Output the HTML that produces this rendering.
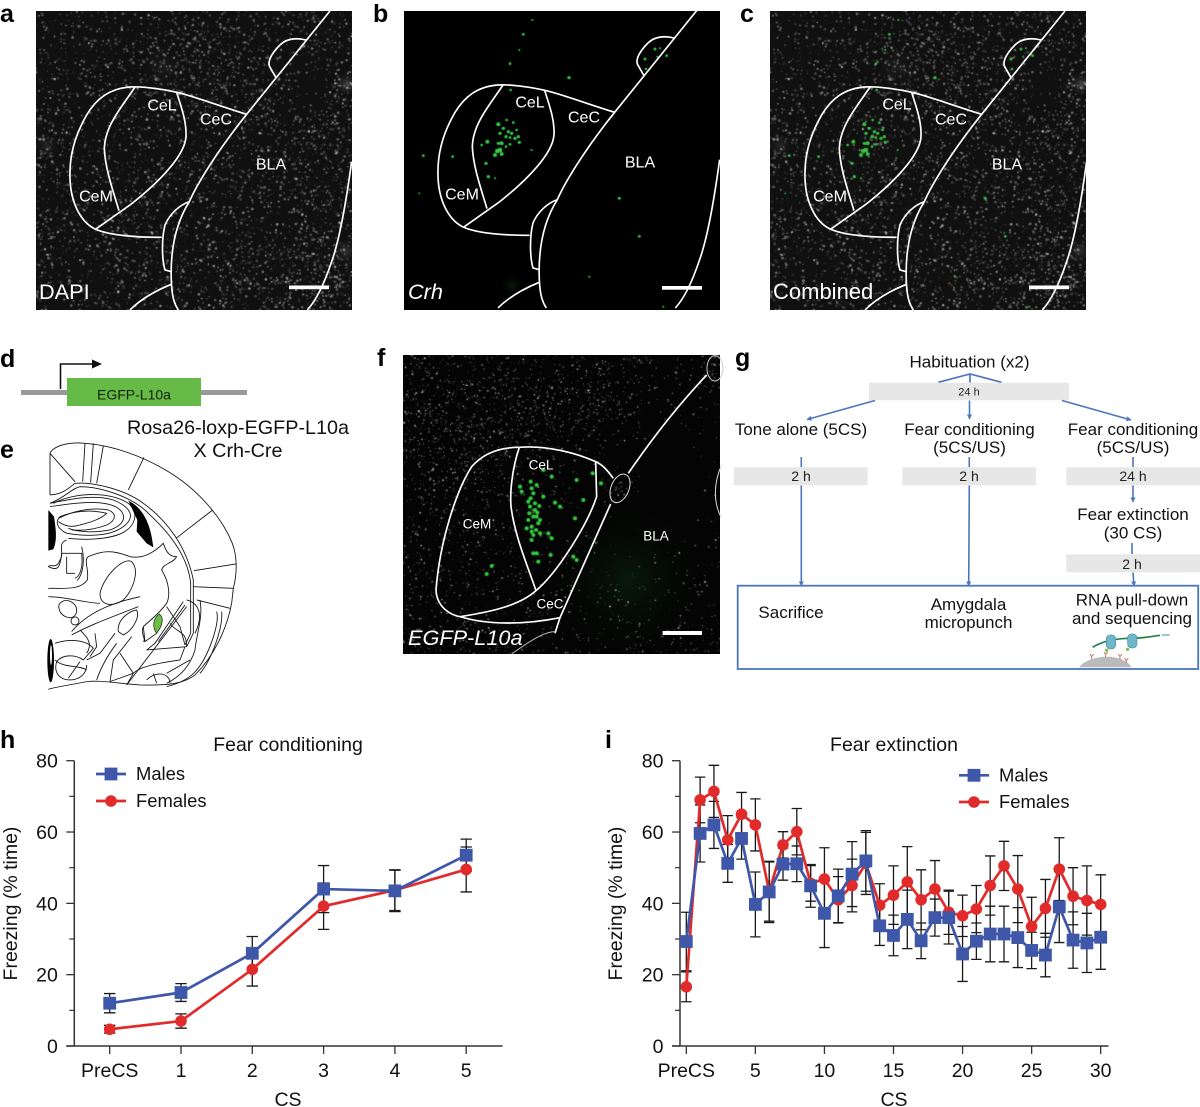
<!DOCTYPE html>
<html lang="en">
<head>
<meta charset="utf-8">
<title>Crh neuron figure</title>
<style>
html,body{margin:0;padding:0;background:#fff;}
#page{position:relative;width:1200px;height:1107px;overflow:hidden;background:#fff;font-family:"Liberation Sans",sans-serif;}
canvas{position:absolute;display:block;}
#fig{position:absolute;left:0;top:0;}
text{font-family:"Liberation Sans",sans-serif;}
.pl{font-size:25px;font-weight:bold;fill:#000;}
.wl{fill:#fff;font-size:16px;text-anchor:middle;dominant-baseline:central;}
.out{fill:none;stroke:#fff;stroke-width:5;}
.br{fill:none;stroke:#111;stroke-width:2.6;}
.gt{font-size:17px;fill:#111;text-anchor:middle;}
.flow{fill:none;stroke:#4a76c0;stroke-width:1.6;}
.gb{fill:#e8e7e7;}
.tk{font-size:19.5px;fill:#111;}
</style>
</head>
<body>
<div id="page">
<canvas id="cvA" width="316" height="299" style="left:36px;top:11px"></canvas>
<canvas id="cvB" width="316" height="299" style="left:404px;top:11px"></canvas>
<canvas id="cvC" width="316" height="299" style="left:770px;top:11px"></canvas>
<canvas id="cvF" width="317" height="299" style="left:403px;top:355px"></canvas>
<svg id="fig" width="1200" height="1107" viewBox="0 0 1200 1107" xmlns="http://www.w3.org/2000/svg">
<defs>
<marker id="ah" markerWidth="6" markerHeight="6" refX="4.5" refY="2.5" orient="auto" markerUnits="userSpaceOnUse"><path d="M0 0L5 2.5L0 5Z" fill="#4a76c0"/></marker>
<g id="amy">
<path class="out" d="M650 328C560 300 480 270 440 262C390 250 330 244 300 246C240 250 200 280 170 330C130 400 118 460 120 520C122 590 150 650 195 672C240 692 320 697 395 697"/>
<path class="out" d="M315 246C280 300 225 360 223 430C225 490 250 560 267 617"/>
<path class="out" d="M440 262C455 310 470 350 468 395C465 450 390 530 300 600L198 672"/>
<path class="out" d="M900 18L650 328C560 440 500 540 478 590C440 650 420 730 424 830C426 880 435 900 445 915"/>
<path class="out" d="M828 105C800 98 770 100 750 120C720 150 710 175 722 190L738 218"/>
<path class="out" d="M478 590C450 600 420 625 405 660C395 700 395 760 405 795L424 800"/>
<path class="out" d="M424 838C370 860 330 885 300 915"/>
<path class="out" d="M965 470C950 580 930 700 905 770C885 830 860 885 832 915"/>
</g>
</defs>

<text class="pl" x="0" y="22">a</text>
<text class="pl" x="373" y="22">b</text>
<text class="pl" x="740" y="22">c</text>
<text class="pl" x="0" y="367">d</text>
<text class="pl" x="0" y="458">e</text>
<text class="pl" x="377" y="366">f</text>
<text class="pl" x="735" y="366">g</text>
<text class="pl" x="0" y="748">h</text>
<text class="pl" x="605" y="748">i</text>

<!-- panel a -->
<g transform="translate(30,5) scale(.3333)"><use href="#amy"/></g>
<rect x="289" y="285.500" width="40" height="3.700" fill="#fff"/>
<g>
<text class="wl" x="162" y="106">CeL</text><text class="wl" x="216" y="120">CeC</text><text class="wl" x="271" y="165">BLA</text><text class="wl" x="96" y="197">CeM</text>
<text x="39" y="299" fill="#fff" font-size="21.7">DAPI</text>
</g>
<!-- panel b -->
<g transform="translate(398,3) scale(.3333)"><use href="#amy"/></g>
<rect x="662" y="286" width="40" height="3.700" fill="#fff"/>
<g>
<text class="wl" x="530" y="103">CeL</text><text class="wl" x="584" y="118">CeC</text><text class="wl" x="640" y="163">BLA</text><text class="wl" x="462" y="195">CeM</text>
<text x="408" y="299" fill="#fff" font-size="21.7" font-style="italic">Crh</text>
</g>
<!-- panel c -->
<g transform="translate(765,5) scale(.3333)"><use href="#amy"/></g>
<rect x="1029" y="285.500" width="40" height="3.700" fill="#fff"/>
<g>
<text class="wl" x="897" y="105">CeL</text><text class="wl" x="951" y="120">CeC</text><text class="wl" x="1007" y="165">BLA</text><text class="wl" x="830" y="197">CeM</text>
<text x="773" y="299" fill="#fff" font-size="22">Combined</text>
</g>

<!-- panel d -->
<g>
<rect x="21" y="390" width="226" height="5" fill="#999"/>
<path d="M60.5 389V364H93" fill="none" stroke="#111" stroke-width="1.6"/>
<path d="M92 359.500L102 364L92 368.500Z" fill="#111"/>
<rect x="67" y="378" width="134" height="28" fill="#66bb46"/>
<text x="134" y="399.500" text-anchor="middle" font-size="14" fill="#14200e">EGFP-L10a</text>
</g>
<text x="238" y="434" text-anchor="middle" font-size="19.8" fill="#111">Rosa26-loxp-EGFP-L10a</text>
<text x="238" y="457" text-anchor="middle" font-size="19.8" fill="#111">X Crh-Cre</text>

<!-- panel e -->
<g transform="translate(0,340) scale(.3333)">
<path class="br" d="M150 340C160 318 205 305 255 310C340 316 430 350 500 392C590 445 665 530 697 610C712 650 712 700 700 745L695 790C680 870 640 950 585 1005C540 1040 470 1035 420 1035C350 1030 300 1020 260 1025C210 1035 170 1040 145 1048"/>
<path class="br" d="M150 340V465M150 340L225 425M255 310L248 425M280 310L272 428M310 318L290 430M432 352L385 450M638 510L528 595M708 672L582 692M700 745L580 740M690 805L590 780"/>
<path class="br" d="M150 465C190 462 205 445 225 430C270 425 370 445 430 490C500 540 560 620 580 720V880L560 920"/>
<path class="br" d="M150 490C200 470 215 445 240 440C300 440 400 470 450 525C520 590 565 660 572 730V880L555 915"/>
<path class="br" d="M150 490C210 478 280 462 340 480C390 500 410 530 370 560C330 590 260 590 200 580C170 565 165 545 180 530C230 510 280 510 320 520C300 540 260 550 240 555C210 565 190 555 175 545"/>
<path class="br" d="M150 500C220 490 310 475 355 505C385 530 370 555 330 570C280 580 230 575 205 565"/>
<path class="br" d="M175 535C215 515 270 500 325 510C350 520 350 540 320 555C280 570 240 572 215 570M160 490C230 455 330 455 385 490C420 520 405 560 365 580C320 600 250 600 205 595"/>
<path class="br" d="M200 600C170 610 195 640 180 660C170 690 150 670 145 680"/>
<path class="br" d="M185 640H245C250 680 240 710 225 715M200 650V700H225M145 680C170 692 180 690 185 640M245 620C255 660 250 700 232 722"/>
<path class="br" d="M390 650C440 660 480 620 490 610C500 640 510 650 530 650C520 670 490 670 485 690C510 730 510 770 500 790C470 830 450 840 430 860C420 880 440 900 430 905"/>
<path class="br" d="M300 760C310 710 370 650 395 665C420 690 400 750 370 780C340 800 300 800 300 760Z"/>
<path class="br" d="M145 745C200 745 240 750 262 720C268 690 250 660 265 650C310 630 340 630 390 650"/>
<path class="br" d="M145 770C200 770 260 790 300 790M180 790C200 770 230 790 230 810C230 840 195 840 180 815C175 800 175 795 180 790"/>
<circle class="br" cx="225" cy="843" r="12"/>
<path class="br" d="M215 875C260 820 330 790 420 770M215 885C280 850 340 830 415 800M355 875C350 840 385 815 410 810C420 830 400 870 370 885Z"/>
<path class="br" d="M550 785L465 910L440 930M555 795L475 905M560 800L380 1035M350 910C320 950 300 990 290 1020M395 890L340 960L330 1025"/>
<path class="br" d="M240 870C260 890 280 910 260 940M285 880L290 920L270 950M345 880L300 940L260 960M430 860L435 905L470 880M560 780C600 790 610 830 585 880M510 850C530 880 560 870 560 920M440 930L560 920M360 940L400 1000M330 1025L400 1000M460 1000L470 1030M500 1000L570 960"/>
<path class="br" d="M165 910C210 895 260 900 280 925L250 960C230 945 190 940 170 965C160 1000 180 1020 210 1020C240 1020 260 1000 260 975M205 1015L240 965M165 960C190 985 240 975 260 990"/>
<path class="br" d="M400 1000L380 1035M440 1020C470 990 510 1000 510 1030M400 1000C420 980 470 970 540 960L555 920M500 800L540 860L555 915"/>
<path class="br" d="M600 780C610 830 590 880 585 930C570 980 540 1010 500 1030M650 815C660 850 625 950 590 990C570 1015 540 1030 500 1040M665 815C670 860 635 960 600 1000"/>
<path d="M145 510L162 530C168 570 172 600 160 628L145 632Z" fill="#000"/>
<path d="M385 482C420 500 450 535 460 622L440 610L410 575L412 540Z" fill="#000"/>
<ellipse cx="152" cy="962" rx="10" ry="65" fill="#000"/>
<ellipse cx="153" cy="945" rx="3" ry="30" fill="#fff"/>
<path d="M478 822C495 835 485 860 470 880C455 860 460 835 478 822Z" fill="#6cbf45" stroke="#111" stroke-width="2"/>
</g>

<!-- panel f -->
<g transform="translate(400,350) scale(.3333)">
<path class="out" d="M358 292C300 292 250 310 215 350C170 420 120 570 108 720C110 770 150 795 180 800C260 825 370 825 480 803"/>
<path class="out" d="M180 800C280 785 360 765 408 722C470 670 560 530 590 440L587 335"/>
<path class="out" d="M358 292C440 285 530 310 587 335C610 345 625 365 640 385"/>
<path class="out" d="M358 292C335 360 330 430 333 470C345 560 380 640 408 722"/>
<path class="out" d="M632 462L480 803L465 850"/>
<path class="out" d="M465 845C430 845 380 880 335 912" style="stroke:#bbb;stroke-width:3"/>
<ellipse cx="660" cy="415" rx="27" ry="45" transform="rotate(22 660 415)" fill="none" stroke="#ddd" stroke-width="3"/>
<path class="out" d="M685 370C760 260 840 160 920 75"/>
<ellipse cx="945" cy="55" rx="24" ry="38" fill="none" stroke="#ccc" stroke-width="3"/>
<path d="M965 345C940 400 940 460 965 505" fill="none" stroke="#ddd" stroke-width="3"/>
<rect x="788" y="843" width="118" height="12" fill="#fff"/>
</g>
<g>
<text class="wl" x="541" y="465" style="font-size:13.5px">CeL</text><text class="wl" x="477" y="524" style="font-size:13.5px">CeM</text><text class="wl" x="550" y="604" style="font-size:13.5px">CeC</text><text class="wl" x="656" y="536" style="font-size:13.5px">BLA</text>
<text x="408" y="645" fill="#fff" font-size="21.7" font-style="italic">EGFP-L10a</text>
</g>

<!-- panel g -->
<g>
<g transform="translate(725,340) scale(.3333)">
<path class="flow" style="stroke-width:5" d="M640 127L735 102L830 127M735 102V128"/>
</g>
<rect class="gb" x="869" y="382.700" width="200" height="17.500"/>
<text x="969" y="395.500" text-anchor="middle" font-size="11" fill="#222">24 h</text>
<rect class="gb" x="733.700" y="467.300" width="134" height="18"/>
<rect class="gb" x="902.300" y="467.300" width="133.700" height="18"/>
<rect class="gb" x="1066.300" y="467.300" width="133.700" height="18"/>
<rect class="gb" x="1066.300" y="554.300" width="133.700" height="18"/>
<text x="801" y="481" text-anchor="middle" font-size="14" fill="#222">2 h</text>
<text x="969" y="481" text-anchor="middle" font-size="14" fill="#222">2 h</text>
<text x="1133" y="481" text-anchor="middle" font-size="14" fill="#222">24 h</text>
<text x="1132" y="569" text-anchor="middle" font-size="14" fill="#222">2 h</text>
<path class="flow" marker-end="url(#ah)" d="M875 400.500L807 419.500"/>
<path class="flow" marker-end="url(#ah)" d="M969.500 400.500V419"/>
<path class="flow" marker-end="url(#ah)" d="M1062 400.500L1131 420"/>
<path class="flow" d="M801.300 457V467M969.300 457V467M1133 457V467M1132 543V554"/>
<path class="flow" marker-end="url(#ah)" d="M801.300 485.500V586"/>
<path class="flow" marker-end="url(#ah)" d="M969.300 485.500L968.700 586"/>
<path class="flow" marker-end="url(#ah)" d="M1133 485.500V502"/>
<path class="flow" marker-end="url(#ah)" d="M1133 572.500L1134 586"/>
<rect x="737.700" y="585.700" width="460.500" height="83.300" fill="none" stroke="#4a76c0" stroke-width="1.8"/>
<text class="gt" x="969.500" y="367.500">Habituation (x2)</text>
<text class="gt" x="801" y="435">Tone alone (5CS)</text>
<text class="gt" x="969.500" y="435">Fear conditioning</text>
<text class="gt" x="969.500" y="453">(5CS/US)</text>
<text class="gt" x="1133" y="435">Fear conditioning</text>
<text class="gt" x="1133" y="453">(5CS/US)</text>
<text class="gt" x="1133" y="520">Fear extinction</text>
<text class="gt" x="1133" y="538.500">(30 CS)</text>
<text class="gt" x="791" y="618">Sacrifice</text>
<text class="gt" x="968.500" y="610">Amygdala</text>
<text class="gt" x="968.500" y="628">micropunch</text>
<text class="gt" x="1132" y="605.500">RNA pull-down</text>
<text class="gt" x="1132" y="624">and sequencing</text>
<g transform="translate(725,340) scale(.3333)">
<path d="M1062 982C1090 945 1190 935 1220 982Z" fill="#bbb"/>
<path d="M1100 950l-5-8m5 8l6-8M1100 950v8M1142 944l-5-8m5 8l6-8M1142 944v8M1185 950l-5-8m5 8l6-8M1185 950v8M1204 962l-5-8m5 8l6-8M1204 962v8" stroke="#b06a5a" stroke-width="2.500" fill="none"/>
<path d="M1103 922C1130 905 1170 895 1220 895C1250 895 1280 890 1305 886" stroke="#1f7f4a" stroke-width="5" fill="none"/>
<path d="M1310 885h24" stroke="#7aa" stroke-width="4" fill="none"/>
<rect x="1144" y="885" width="28" height="42" rx="12" fill="#6fb6c9" stroke="#4b8fa5" stroke-width="2"/>
<rect x="1208" y="882" width="28" height="42" rx="12" fill="#6fb6c9" stroke="#4b8fa5" stroke-width="2"/>
<circle cx="1145" cy="931" r="5" fill="#7cc242"/><circle cx="1208" cy="928" r="5" fill="#7cc242"/>
</g>
</g>

<g id="chartH"></g>
<g id="chartI"></g>
</svg>
</div>

<script>
// ---- Panel h data ----
const hCategories = ['PreCS', '1', '2', '3', '4', '5'];
const hMales = [12, 15, 26, 44, 43.5, 53.5];
const hMalesErr = [2.7, 2.5, 4.7, 6.6, 5.8, 4.5];
const hFemales = [4.7, 7, 21.5, 39.2, 43.7, 49.5];
const hFemalesErr = [1.1, 2, 4.7, 6.5, 5.7, 6.3];
// ---- Panel i data (index 0 is PreCS, then CS 1..30) ----
const iTickValues = [0, 5, 10, 15, 20, 25, 30];
const iTickLabels = ['PreCS', '5', '10', '15', '20', '25', '30'];
const iMales = [29.3, 59.6, 62, 51.2, 58.2, 39.7, 43.2, 51, 51.1, 44.9, 37.2, 42.1, 48.2, 51.9, 33.7, 31, 35.5, 29.5, 36, 36, 25.8, 29.4, 31.4, 31.4, 30.4, 26.8, 25.5, 39, 29.7, 28.9, 30.5];
const iMalesErr = [8.2, 8, 6.6, 5.3, 5.8, 9.1, 8.6, 4.5, 5, 6, 9.6, 7.5, 9.1, 8.5, 5.5, 5.7, 8.2, 5, 5.2, 7.4, 7.7, 5.1, 7.8, 7.8, 8.4, 5.1, 6.1, 10, 7.9, 8.3, 9];
const iFemales = [16.6, 69, 71.4, 57.8, 65, 62, 43.3, 56.4, 60.1, 45.6, 46.8, 41, 45, 51.2, 39.5, 42.3, 46, 41, 44, 37.5, 36.5, 38.4, 45, 50.5, 44, 33.5, 38.6, 49.6, 42, 40.8, 39.7];
const iFemalesErr = [4.2, 6.4, 7.3, 6.8, 6.1, 7.3, 8.3, 3.7, 6.5, 5, 8.8, 6.5, 7.4, 8.7, 6, 8.2, 9.9, 8.4, 8, 6.2, 5.8, 6.6, 8.3, 6.9, 9.4, 8.2, 8.1, 8.8, 8, 9.7, 8.3];
// ---- Shared axis data ----
const yTicks = [0, 20, 40, 60, 80];
const yMinorTicks = [10, 30, 50, 70];
const yMax = 80;
const seriesNames = ['Males', 'Females'];

const NS = 'http://www.w3.org/2000/svg';
const BLUE = '#3f57a8', RED = '#e12b2b', AXIS = '#333';
function mk(parent, tag, attrs, txt) {
  const el = document.createElementNS(NS, tag);
  for (const k in attrs) el.setAttribute(k, attrs[k]);
  if (txt !== undefined) el.textContent = txt;
  parent.appendChild(el);
  return el;
}
function drawChart(cfg) {
  const root = cfg.root;
  const yScale = v => 1046 - (v / yMax) * 285.3;
  const xScale = cfg.xScale;
  // error bars
  const errG = mk(root, 'g', {});
  
  
  [[cfg.females, cfg.femalesErr], [cfg.males, cfg.malesErr]].forEach(pair => {
    pair[0].forEach((v, i) => {
      const x = xScale(i), hi = yScale(v + pair[1][i]), lo = yScale(v - pair[1][i]), c = cfg.cap;
      const eb = mk(errG, 'path', {d: `M${x} ${hi}V${lo}M${x - c} ${hi}H${x + c}M${x - c} ${lo}H${x + c}`, fill: 'none', stroke: '#1a1a1a', 'stroke-width': 1.3});
      
      
    });
  });
  // axes
  const ax = mk(root, 'g', {});
  
  
  mk(ax, 'path', {d: `M${cfg.axisX} ${yScale(yMax)}V1046M${cfg.axisX - 8} 1046H${cfg.axisEnd}`, fill: 'none', stroke: AXIS, 'stroke-width': 1.5});
  yTicks.forEach(t => {
    mk(ax, 'line', {x1: cfg.axisX - 8, x2: cfg.axisX, y1: yScale(t), y2: yScale(t), stroke: AXIS, 'stroke-width': 1.3});
    const lab = mk(ax, 'text', {class: 'tk', x: cfg.axisX - 16.5, y: yScale(t) + 7, 'text-anchor': 'end'}, String(t));
    
    
  });
  yMinorTicks.forEach(t => mk(ax, 'line', {x1: cfg.axisX - 5, x2: cfg.axisX, y1: yScale(t), y2: yScale(t), stroke: AXIS, 'stroke-width': 1.2}));
  cfg.tickPos.forEach((p, i) => {
    mk(ax, 'line', {x1: xScale(p), x2: xScale(p), y1: 1046, y2: 1054, stroke: AXIS, 'stroke-width': 1.3});
    const lab = mk(ax, 'text', {class: 'tk', x: xScale(p), y: 1077, 'text-anchor': 'middle'}, cfg.tickLabels[i]);
    
    
  });
  // series
  function series(vals, color, square, name) {
    const g = mk(root, 'g', {});
    
    
    mk(g, 'polyline', {points: vals.map((v, i) => xScale(i) + ',' + yScale(v)).join(' '), fill: 'none', stroke: color, 'stroke-width': 2.7, 'stroke-linejoin': 'round'});
    vals.forEach((v, i) => {
      const x = xScale(i), y = yScale(v);
      const m = square
        ? mk(g, 'rect', {x: x - 6.4, y: y - 6.4, width: 12.8, height: 12.8, fill: color})
        : mk(g, 'circle', {cx: x, cy: y, r: 5.8, fill: color});
      
      
    });
  }
  series(cfg.females, RED, false, 'females-series');
  series(cfg.males, BLUE, true, 'males-series');
  // titles
  const t1 = mk(root, 'text', {class: 'tk', x: cfg.titleX, y: 751, 'text-anchor': 'middle'}, cfg.title);
  
  
  const t2 = mk(root, 'text', {class: 'tk', x: cfg.titleX, y: 1106, 'text-anchor': 'middle'}, 'CS');
  
  
  const t3 = mk(root, 'text', {class: 'tk', x: 0, y: 0, 'text-anchor': 'middle', transform: `translate(${cfg.yTitleX},903.500) rotate(-90)`}, 'Freezing (% time)');
  
  
  // legend
  [0, 1].forEach(i => {
    const y = cfg.legY[i], c = i === 0 ? BLUE : RED;
    const lg = mk(root, 'g', {});
    
    
    mk(lg, 'line', {x1: cfg.legX, x2: cfg.legX + 30, y1: y, y2: y, stroke: c, 'stroke-width': 2.7});
    if (i === 0) mk(lg, 'rect', {x: cfg.legX + 8.6, y: y - 6.4, width: 12.8, height: 12.8, fill: c});
    else mk(lg, 'circle', {cx: cfg.legX + 15, cy: y, r: 5.8, fill: c});
    mk(lg, 'text', {class: 'tk', x: cfg.legX + 40, y: y + 6, style: 'font-size:18.4px'}, seriesNames[i]);
  });
}
drawChart({
  root: document.getElementById('chartH'),
  xScale: i => 109.7 + i * 71.3,
  tickPos: hCategories.map((c, i) => i), tickLabels: hCategories,
  males: hMales, malesErr: hMalesErr, females: hFemales, femalesErr: hFemalesErr,
  axisX: 74.3, axisEnd: 502.5, cap: 5.7, title: 'Fear conditioning', titleX: 288, yTitleX: 17,
  legX: 96, legY: [774, 801]
});
drawChart({
  root: document.getElementById('chartI'),
  xScale: i => 686.3 + i * 13.813,
  tickPos: iTickValues, tickLabels: iTickLabels,
  males: iMales, malesErr: iMalesErr, females: iFemales, femalesErr: iFemalesErr,
  axisX: 680, axisEnd: 1108.5, cap: 5.2, title: 'Fear extinction', titleX: 894, yTitleX: 622,
  legX: 959, legY: [775.3, 802]
});

// ---- Micrograph textures (decorative image grain, not chart data) ----
function lcg(seed) { let s = seed >>> 0; return () => (s = (s * 1664525 + 1013904223) >>> 0) / 4294967296; }
function patch(ctx, x, y, r, col) {
  const g = ctx.createRadialGradient(x, y, 0, x, y, r);
  g.addColorStop(0, col); g.addColorStop(1, 'rgba(0,0,0,0)');
  ctx.fillStyle = g; ctx.fillRect(0, 0, ctx.canvas.width, ctx.canvas.height);
}
// texture density map for the DAPI field: x, y, radius, weight (panel pixels)
const dapiField = [[127,57,30,.5],[10,134,22,.4],[309,73,18,.9],[289,117,22,.4],[294,241,22,.7],[304,201,20,.5],[194,57,30,.3],[4,221,18,.4],[250,260,60,.25],[180,220,50,.2],[277,72,16,-.7],[227,201,30,-.3],[104,11,35,-.3],[151,211,26,-.3],[27,168,22,-.25],[100,120,40,-.1],[60,60,50,-.05]];
function density(x, y) {
  let d = .55;
  dapiField.forEach(f => {
    const dx = x - f[0], dy = y - f[1];
    d += f[3] * Math.exp(-(dx * dx + dy * dy) / (2 * f[2] * f[2]));
  });
  return d;
}
function dapi(ctx, seed) {
  ctx.fillStyle = '#101010'; ctx.fillRect(0, 0, 316, 299);
  patch(ctx, 311, 73, 14, 'rgba(255,255,255,.22)');
  patch(ctx, 310, 240, 16, 'rgba(255,255,255,.14)');
  patch(ctx, 127, 57, 26, 'rgba(255,255,255,.05)');
  patch(ctx, 10, 134, 14, 'rgba(255,255,255,.1)');
  const r = lcg(seed);
  ctx.filter = 'blur(0.65px)';
  for (let i = 0; i < 6500; i++) {
    const x = r() * 316, y = r() * 299;
    if (r() > density(x, y)) continue;
    const b = 70 + r() * 150, a = .2 + r() * .55, s = .6 + r() * .75;
    ctx.fillStyle = `rgba(${b | 0},${b | 0},${b | 0},${a})`;
    ctx.beginPath(); ctx.arc(x, y, s, 0, 7); ctx.fill();
  }
  ctx.filter = 'none';
}
// green spots listed in zoomed-crop units relative to panel b
const greenSpots = [[295,358,5],[300,385,4],[310,370,4],[320,345,3],[340,353,3],[325,380,4],[335,385,4],[350,375,3],[355,395,4],[358,412,4],[345,400,4],[330,398,3],[318,395,4],[305,415,5],[295,415,4],[300,435,6],[292,438,6],[285,450,5],[305,447,5],[318,425,3],[330,418,3],[262,410,5],[245,420,3],[258,475,4],[265,515,4],[285,520,2],[395,435,2],[370,88,3],[358,135,2],[330,176,3],[507,218,4],[332,255,3],[397,45,2],[70,452,3],[158,455,3],[58,565,1.5],[658,580,3.5],[718,694,3],[568,815,2],[790,905,2],[765,132,3.500],[780,130,2],[735,162,3.5],[800,152,3],[738,192,3],[772,155,2]];
function spots(ctx, alpha) {
  ctx.filter = 'blur(0.4px)';
  greenSpots.forEach(p => {
    ctx.fillStyle = `rgba(55,205,70,${alpha})`;
    ctx.beginPath(); ctx.arc(p[0] / 3 - 4, p[1] / 3 - 6, p[2] / 3 + .35, 0, 7); ctx.fill();
  });
  ctx.filter = 'none';
}
const ca = document.getElementById('cvA').getContext('2d');
dapi(ca, 12345);
const cb = document.getElementById('cvB').getContext('2d');
cb.fillStyle = '#000'; cb.fillRect(0, 0, 316, 299);
patch(cb, 108, 275, 14, 'rgba(30,90,35,.28)');
spots(cb, 1);
const cc = document.getElementById('cvC').getContext('2d');
dapi(cc, 12345);
spots(cc, .95);

// EGFP-L10a field: brighter grain upper-left, dim green haze in the BLA
const egfpField = [[190,45,26,.9],[35,80,30,.7],[20,110,20,.6],[110,72,24,.5],[60,30,50,.35],[216,133,10,1.2],[312,15,10,.8],[230,190,70,-.3],[270,100,50,-.35],[160,150,50,-.1]];
function egfpDensity(x, y) {
  let d = .42;
  egfpField.forEach(f => {
    const dx = x - f[0], dy = y - f[1];
    d += f[3] * Math.exp(-(dx * dx + dy * dy) / (2 * f[2] * f[2]));
  });
  return d;
}
const cf = document.getElementById('cvF').getContext('2d');
cf.fillStyle = '#040404'; cf.fillRect(0, 0, 317, 299);
patch(cf, 225, 225, 90, 'rgba(15,60,20,.38)');
(function () {
  const r = lcg(777);
  cf.filter = 'blur(0.35px)';
  for (let i = 0; i < 6000; i++) {
    const x = r() * 317, y = r() * 299;
    if (r() > egfpDensity(x, y)) continue;
    const b = 80 + r() * 170, a = .25 + r() * .6, s = .4 + r() * .55;
    cf.fillStyle = `rgba(${b | 0},${b | 0},${b | 0},${a})`;
    cf.beginPath(); cf.arc(x, y, s, 0, 7); cf.fill();
  }
  [[360,410],[365,425],[392,395],[410,405],[395,415],[385,455],[390,470],[405,460],[385,510],[410,500],[415,520],[395,530],[400,555],[395,570],[420,550],[445,550],[455,565],[405,480],[430,440],[465,458],[480,470],[410,610],[400,610],[415,635],[260,672],[275,648],[525,505],[550,450],[578,370],[603,400],[455,380],[530,390],[430,360],[520,620],[530,630],[452,615],[388,490],[400,500],[412,488],[395,545],[408,540],[420,510],[380,535],[400,430],[392,445],[418,468]]
    .forEach(p => {
      cf.fillStyle = '#35c93f';
      cf.beginPath(); cf.arc(p[0] / 3 - 3, p[1] / 3 - 5, 2.1, 0, 7); cf.fill();
    });
  cf.filter = 'none';
})();
</script>
</body>
</html>
